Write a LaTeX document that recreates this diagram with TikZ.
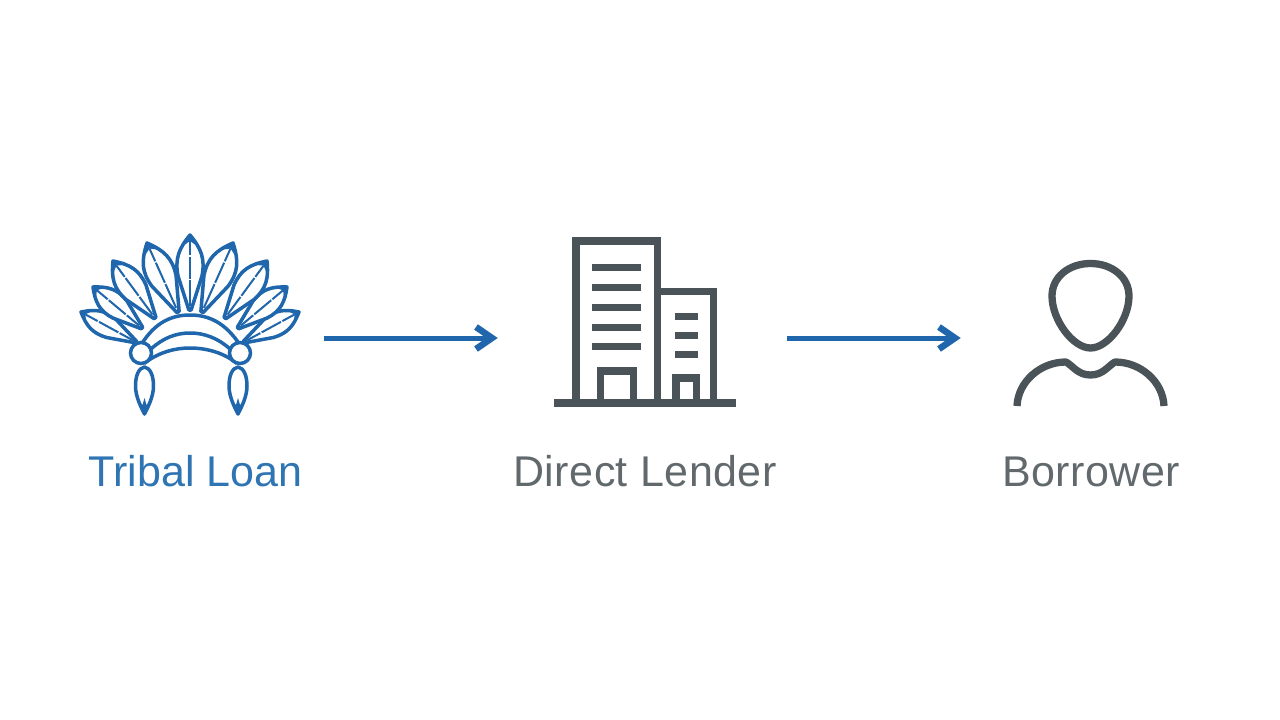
\documentclass[tikz,border=0pt]{standalone}
\usepackage{fontspec}
\setmainfont{Liberation Sans}
\newfontfamily\grayfont[LetterSpace=1.1]{Liberation Sans}
\definecolor{bluec}{HTML}{1F66AC}
\definecolor{bluet}{HTML}{2F75B3}
\definecolor{grayc}{HTML}{4A5458}
\definecolor{grayt}{HTML}{62696D}
\newcommand{\feather}[5]{% tipx tipy basex basey halfwidth
 \begin{scope}[shift={(#1,#2)},rotate={atan2(-(#4-#2),#3-#1)}]
  \pgfmathsetmacro{\L}{veclen(#3-#1,#4-#2)}
  \draw[icoB,fill=white,line join=round] (0,0) .. controls (0.18*\L,-#5*0.8) and (0.32*\L,-#5*1.1) .. (0.55*\L,-#5*0.85) -- (\L,-#5*0.08) -- (\L,#5*0.08) -- (0.55*\L,#5*0.85) .. controls (0.32*\L,#5*1.1) and (0.18*\L,#5*0.8) .. (0,0) -- cycle;
  \fill[bluec] (0,0) -- (0.155*\L,-#5*0.58) -- (0.08*\L,0) -- (0.155*\L,#5*0.58) -- cycle;
  \draw[icoB,line width=2pt,dash pattern=on 14pt off 1.5pt on 22pt off 1.5pt on 60pt] (0.08*\L,0) -- (0.94*\L,0);
 \end{scope}}
\tikzset{
 icoB/.style={draw=bluec,line width=3.5pt},
 icoG/.style={draw=grayc,line width=7.3pt},
 bar/.style={draw=grayc,line width=7pt},
 lnk/.style={draw=bluec,line width=5pt},
 chev/.style={draw=bluec,line width=6.5pt,line join=miter},
 anchorbox/.style={minimum height=10pt,inner sep=0pt,outer sep=0pt},
 lab/.style={font=\fontsize{43}{43}\selectfont,inner sep=0pt,anchor=base}
}
\begin{document}
\begin{tikzpicture}[x=1pt,y=-1pt]
\useasboundingbox (0,0) rectangle (1280,720);
\fill[white] (0,0) rectangle (1280,720);
% anchors
\node[anchorbox,minimum width=268pt] (tribal) at (190,338) {};
\node[anchorbox,minimum width=290pt] (lender) at (642,338) {};
\node[anchorbox,minimum width=260pt] (borrower) at (1090,338) {};
% feathers
\feather{81}{312}{136}{342}{12}
\feather{299}{312}{244}{342}{12}
\feather{93}{287}{142}{328}{13}
\feather{287}{287}{238}{328}{13}
\feather{113}{261}{155}{318}{14.5}
\feather{267}{261}{225}{318}{14.5}
\feather{147}{243}{178}{312}{15.5}
\feather{233}{243}{202}{312}{15.5}
\feather{190}{235}{190}{310}{14}
% band
\draw[icoB,fill=white] (141,345) .. controls (155,322) and (172,315) .. (190,315) .. controls (208,315) and (225,322) .. (240,345) -- (235,362) .. controls (222,352) and (205,348) .. (190,348) .. controls (175,348) and (160,352) .. (146,362) -- cycle;
\draw[icoB] (151,349) .. controls (163,338) and (176,333) .. (190,333) .. controls (204,333) and (218,338) .. (230,349);
% circles
\draw[icoB,fill=white] (141,353) circle (10.5);
\draw[icoB,fill=white] (240,353) circle (10.5);
% drops
\foreach \cx in {144.5,238}{
 \draw[icoB,fill=white,line join=round] (\cx,367) .. controls (\cx+6,368) and (\cx+9,376) .. (\cx+9,386) .. controls (\cx+9,397) and (\cx+3,408) .. (\cx,414) .. controls (\cx-3,408) and (\cx-9,397) .. (\cx-9,386) .. controls (\cx-9,376) and (\cx-6,368) .. (\cx,367) -- cycle;
 \fill[bluec] (\cx,414) -- (\cx-5.5,402) -- (\cx-2,405) -- (\cx,398) -- (\cx+2,405) -- (\cx+5.5,402) -- cycle;
}
% building
\draw[icoG,line cap=butt,line join=miter] (576,403) -- (576,241) -- (657.5,241) -- (657.5,403);
\draw[icoG,line cap=butt,line join=miter] (657.5,291.5) -- (713.5,291.5) -- (713.5,403);
\draw[icoG] (554,403) -- (736,403);
\foreach \y in {267.7,287.3,307,327,346.7}{\draw[bar] (592,\y) -- (641,\y);}
\foreach \y in {316,335,354.3}{\draw[bar] (675,\y) -- (698,\y);}
\draw[icoG,line join=miter] (600.5,403) -- (600.5,371) -- (633.5,371) -- (633.5,403);
\draw[icoG,line join=miter] (676,403) -- (676,378) -- (696.5,378) -- (696.5,403);
% person
\draw[icoG] (1090.5,263.5) .. controls (1112,263.5) and (1129,277) .. (1129,296) .. controls (1129,320) and (1108,348) .. (1090.5,348) .. controls (1073,348) and (1052,320) .. (1052,296) .. controls (1052,277) and (1069,263.5) .. (1090.5,263.5) -- cycle;
\draw[icoG,line cap=butt,line join=round] (1017,406) .. controls (1018,382) and (1040,362) .. (1066,362) .. controls (1073,366) and (1078,375) .. (1090.5,375) .. controls (1103,375) and (1108,366) .. (1115,362) .. controls (1141,362) and (1163,382) .. (1164,406);
% arrows
\draw[lnk] (tribal.east) -- ([xshift=-4pt]lender.west);
\draw[chev] ([xshift=-21pt,yshift=-11pt]lender.west) -- ([xshift=-5pt]lender.west) -- ([xshift=-21pt,yshift=11pt]lender.west);
\draw[lnk] (lender.east) -- ([xshift=-4pt]borrower.west);
\draw[chev] ([xshift=-21pt,yshift=-11pt]borrower.west) -- ([xshift=-5pt]borrower.west) -- ([xshift=-21pt,yshift=11pt]borrower.west);
% labels
\node[lab,text=bluet] (t1) at (195.5,486) {Tribal Loan};
\node[lab,text=grayt] (t2) at (645,486) {\grayfont Direct Lender};
\node[lab,text=grayt] (t3) at (1091,486) {\grayfont Borrower};
\end{tikzpicture}
\end{document}
